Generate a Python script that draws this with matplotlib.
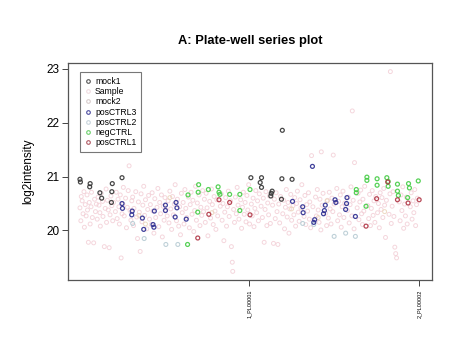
import matplotlib
matplotlib.use("Agg")
import matplotlib.pyplot as plt
from matplotlib.lines import Line2D

plt.rcParams['font.family'] = ['Liberation Sans', 'DejaVu Sans']

title = "A: Plate-well series plot"
ylabel = "log2intensity"
plate_ticks = [384, 768]
plate_labels = ["1_PL00001", "2_PL00002"]
yticks = [20, 21, 22, 23]

sample_idx = [
    2, 4, 5, 7, 9, 11, 12, 14, 16, 18, 19, 21, 23, 25, 27, 28, 30, 33, 35, 37, 39,
    41, 43, 45, 47, 48, 50, 53, 54, 57, 59, 61, 62, 64, 66, 68, 70, 72, 74, 76, 78,
    82, 84, 86, 88, 90, 91, 93, 95, 97, 99, 100, 102, 105, 107, 109, 111, 113, 115, 117, 119,
    121, 123, 124, 128, 130, 132, 134, 136, 138, 140, 142, 144, 146, 148, 150, 153, 155, 157, 159,
    161, 163, 165, 167, 169, 171, 173, 176, 178, 180, 182, 184, 186, 188, 190, 192, 194, 196, 199,
    201, 203, 205, 207, 209, 211, 213, 215, 217, 220, 222, 225, 227, 229, 231, 233, 235, 237, 239,
    241, 243, 247, 249, 251, 253, 255, 257, 259, 261, 263, 265, 267, 271, 273, 275, 277, 279,
    281, 283, 285, 287, 289, 291, 295, 297, 299, 301, 303, 305, 307, 309, 311, 313, 319,
    321, 323, 325, 327, 329, 331, 333, 335, 337, 339, 342, 344, 346, 347, 349, 351, 353, 355, 357, 359,
    361, 365, 367, 369, 371, 373, 375, 377, 379, 381, 383, 385, 389, 391, 393, 395, 397, 399,
    401, 403, 405, 407, 411, 414, 416, 418, 420, 422, 424, 426, 428, 430, 432, 437, 439,
    441, 443, 445, 447, 449, 451, 453, 455, 460, 462, 464, 466, 468, 470, 472, 474, 476, 478, 480,
    483, 485, 487, 489, 491, 493, 495, 497, 499, 501, 503, 508, 510, 512, 514, 516, 518, 520,
    521, 523, 525, 528, 534, 536, 538, 540, 542, 544, 546, 547, 549, 551, 557, 559,
    561, 563, 565, 567, 569, 571, 573, 574, 576, 582, 584, 586, 588, 590, 592, 594, 596, 598, 600,
    606, 608, 610, 612, 614, 616, 617, 619, 621, 622, 628, 630, 632, 634, 636, 638, 640,
    641, 643, 645, 652, 654, 656, 658, 660, 662, 664, 666, 668, 670, 674, 676, 678, 680,
    682, 684, 686, 688, 690, 692, 694, 700, 702, 703, 705, 707, 709, 711, 713, 715, 717,
    723, 725, 727, 729, 731, 733, 735, 737, 739, 741, 748, 750, 752, 754, 756, 758, 760, 762, 764,
]
sample_val = [
    20.42, 20.18, 20.63, 20.55, 20.31, 20.72, 20.06, 20.48, 20.27, 20.66, 20.38, 19.78, 20.52, 20.12, 20.44, 20.71, 20.24, 19.77, 20.58, 20.35, 20.49,
    20.21, 20.62, 20.47, 20.33, 20.08, 20.69, 20.54, 20.26, 19.70, 20.41, 20.77, 20.15, 20.56, 20.38, 19.68, 20.29, 20.64, 20.46, 20.18, 20.52,
    20.35, 20.71, 20.22, 20.58, 20.44, 20.12, 20.66, 19.49, 20.31, 20.49, 20.80, 20.27, 20.60, 20.05, 20.43, 20.74, 21.20, 20.37, 20.19, 20.55,
    20.62, 20.09, 20.41, 20.72, 20.25, 19.85, 20.53, 20.34, 19.61, 20.68, 20.16, 20.47, 20.82, 20.28, 20.57, 20.03, 20.39, 20.65, 20.21,
    20.48, 20.11, 20.70, 20.36, 19.95, 20.59, 20.24, 20.43, 20.78, 20.07, 20.52, 20.31, 20.66, 19.88, 20.45, 20.19, 20.61, 20.38, 20.27,
    20.55, 20.14, 20.73, 20.40, 20.02, 20.63, 20.29, 20.49, 20.85, 20.18, 20.58, 20.08, 20.44, 19.92, 20.69, 20.33, 20.52, 20.12, 20.76,
    20.41, 20.24, 20.62, 20.05, 20.48, 20.71, 20.30, 20.56, 19.98, 20.37, 20.82, 20.19, 20.51, 20.66, 20.09, 20.43, 20.28, 20.74,
    20.35, 20.58, 20.15, 20.69, 20.42, 19.90, 20.54, 20.23, 20.77, 20.48, 20.11, 20.63, 20.36, 20.02, 20.57, 20.27, 20.45,
    20.68, 20.19, 20.50, 19.81, 20.34, 20.61, 20.08, 20.44, 20.73, 20.26, 20.55, 19.70, 19.41, 19.24, 20.39, 20.15, 20.62, 20.31, 20.80, 20.47,
    20.21, 20.57, 20.04, 20.43, 20.71, 20.30, 20.52, 20.16, 20.65, 20.38, 20.85, 20.12, 20.49, 20.27, 20.60, 20.07, 20.41, 20.74,
    20.33, 20.55, 20.18, 20.68, 20.45, 20.24, 20.60, 19.78, 20.39, 20.72, 20.09, 20.51, 20.29, 20.64, 20.13, 20.47, 19.76,
    20.58, 20.22, 20.70, 20.35, 19.74, 20.49, 20.14, 20.63, 20.31, 20.56, 20.03, 20.43, 20.76, 20.25, 20.52, 19.95, 20.40, 20.67, 20.19,
    20.46, 20.29, 20.61, 20.08, 20.50, 20.73, 20.34, 20.17, 20.57, 20.42, 20.85, 20.26, 20.65, 20.11, 20.48, 20.36, 20.70, 20.21,
    20.53, 20.05, 21.39, 20.44, 20.62, 20.27, 20.76, 20.38, 20.15, 20.58, 20.01, 21.46, 20.47, 20.69, 20.32, 20.09,
    20.56, 20.23, 20.71, 20.40, 20.12, 20.60, 20.35, 21.40, 20.49, 20.78, 20.18, 20.54, 20.29, 20.66, 20.06, 20.44, 20.73, 20.24, 20.51,
    20.37, 20.62, 20.14, 20.48, 20.81, 20.27, 22.22, 20.56, 20.03, 21.26, 20.42, 20.69, 20.20, 20.53, 20.75, 20.31, 20.11,
    20.58, 20.36, 20.82, 20.46, 20.22, 20.67, 20.09, 20.41, 20.74, 20.28, 20.55, 20.15, 20.63, 20.33, 20.50, 20.05, 20.70,
    20.39, 20.61, 20.24, 20.78, 20.47, 19.87, 20.56, 20.30, 20.68, 22.95, 20.13, 20.45, 20.72, 20.26, 19.69, 19.57, 19.49,
    20.53, 20.18, 20.66, 20.37, 20.81, 20.04, 20.49, 20.27, 20.62, 20.12, 20.44, 20.70, 20.21, 20.55, 20.33, 20.76, 20.09, 20.48, 20.60,
]

mock1_idx = [2, 3, 25, 24, 47, 51, 75, 74, 73, 97, 388, 412, 409, 412, 436, 434, 433, 458, 481, 457, 459]
mock1_val = [20.95, 20.90, 20.87, 20.81, 20.70, 20.60, 20.87, 20.72, 20.52, 20.98,
             20.98, 20.98, 20.89, 20.80, 20.73, 20.69, 20.64, 20.96, 20.95, 20.58, 21.86]

mock2_idx = [135, 150, 205, 300, 480, 540, 560, 690]
mock2_val = [20.28, 20.12, 20.61, 20.33, 20.40, 20.24, 20.55, 20.35]

posctrl3_idx = [97, 98, 120, 119, 143, 146, 167, 170, 169, 195, 195, 219, 221, 217, 242,
                527, 482, 505, 506, 532, 530, 556, 554, 552, 578, 580, 605, 604, 602, 624]
posctrl3_val = [20.50, 20.41, 20.36, 20.29, 20.23, 20.02, 20.11, 20.36, 20.06, 20.47, 20.37,
                20.52, 20.42, 20.25, 20.21,
                21.19, 20.54, 20.44, 20.33, 20.20, 20.15, 20.47, 20.37, 20.31, 20.57, 20.52,
                20.61, 20.50, 20.39, 20.26]

posctrl2_idx = [121, 147, 196, 223, 505, 530, 576, 602, 624]
posctrl2_val = [20.13, 19.85, 19.74, 19.74, 20.13, 20.11, 19.89, 19.95, 19.89]

negctrl_idx = [270, 269, 292, 314, 316, 318, 340, 363, 386, 363, 246, 268, 245,
               650, 650, 673, 673, 626, 626, 695, 698, 698, 719, 719, 721, 744, 746, 742, 766, 648]
negctrl_val = [20.85, 20.71, 20.76, 20.81, 20.71, 20.67, 20.67, 20.67, 20.76, 20.37, 20.66, 20.34, 19.74,
               20.99, 20.93, 20.96, 20.84, 20.76, 20.70, 20.98, 20.91, 20.82, 20.86, 20.73, 20.65,
               20.87, 20.79, 20.61, 20.92, 20.45]

posctrl1_idx = [316, 293, 386, 268, 340, 672, 719, 743, 768, 648, 697]
posctrl1_val = [20.57, 20.30, 20.29, 19.86, 20.52, 20.59, 20.57, 20.51, 20.57, 20.08, 20.90]

series = [
    ("Sample", sample_idx, sample_val, "#f2ccd4", 0.8, 0.7),
    ("mock2", mock2_idx, mock2_val, "#ecd6bc", 0.9, 0.7),
    ("posCTRL2", posctrl2_idx, posctrl2_val, "#b8ccd4", 0.9, 0.8),
    ("mock1", mock1_idx, mock1_val, "#333333", 0.9, 0.9),
    ("posCTRL3", posctrl3_idx, posctrl3_val, "#2c2c90", 0.9, 0.9),
    ("negCTRL", negctrl_idx, negctrl_val, "#44cc44", 0.9, 0.9),
    ("posCTRL1", posctrl1_idx, posctrl1_val, "#b03545", 0.9, 0.9),
]
legend_order = ["mock1", "Sample", "mock2", "posCTRL3", "posCTRL2", "negCTRL", "posCTRL1"]
legend_colors = {"mock1": "#555555", "Sample": "#f0dce0", "mock2": "#d8cccc",
                 "posCTRL3": "#4c4ca0", "posCTRL2": "#c8d4dc", "negCTRL": "#6cd06c",
                 "posCTRL1": "#b05a64"}

fig = plt.figure(figsize=(4.74, 3.55), dpi=100)
ax = fig.add_axes([68/474, 1-280/355, (432-68)/474, (280-63)/355])

for name, xs, ys, col, a, lw in series:
    ax.scatter(xs, ys, s=8, facecolors='none', edgecolors=col, linewidths=lw, alpha=a, zorder=2)

ax.set_xlim(-25, 797)
ax.set_ylim(19.08, 23.11)
ax.set_yticks(yticks)
ax.set_yticklabels([str(t) for t in yticks], fontsize=8.5)
ax.set_xticks(plate_ticks)
ax.set_xticklabels(plate_labels, rotation=90, fontsize=4)
ax.tick_params(axis='both', direction='out', length=4, width=0.7, color='#444444', pad=2)
ax.tick_params(axis='x', pad=3)
for sp in ax.spines.values():
    sp.set_color('#555555')
    sp.set_linewidth(0.9)

ax.set_ylabel(ylabel, fontsize=8.5, labelpad=9)
fig.text(0.5 * (68 + 432) / 474, 1 - 41/355, title, ha='center', va='center',
         fontsize=9.3, fontweight='bold')

handles = [Line2D([], [], marker='o', linestyle='none', markersize=2.6,
                  markerfacecolor='none', markeredgecolor=legend_colors[n], markeredgewidth=0.8)
           for n in legend_order]
leg = ax.legend(handles, legend_order, loc='upper left', bbox_to_anchor=(12/364, 1-9/217),
                fontsize=6.2, frameon=True, fancybox=False, handlelength=0.8,
                handletextpad=0.4, labelspacing=0.15, borderpad=0.55, borderaxespad=0)
leg.get_frame().set_edgecolor('#555555')
leg.get_frame().set_linewidth(0.8)

fig.savefig("out.png", dpi=100)
